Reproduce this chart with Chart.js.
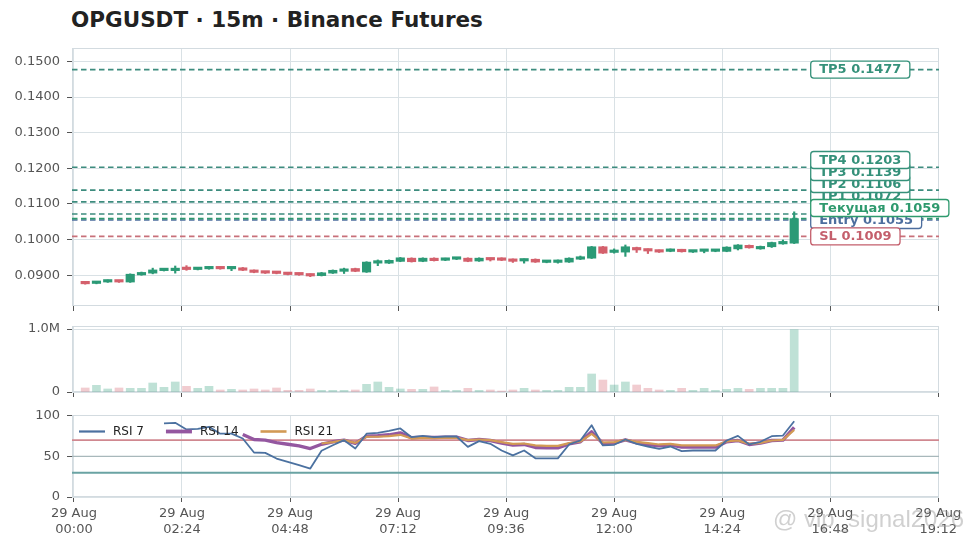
<!DOCTYPE html>
<html>
<head>
<meta charset="utf-8">
<script src="https://cdn.jsdelivr.net/npm/chart.js@4.4.1/dist/chart.umd.min.js"></script>
<style>
  html, body { margin: 0; padding: 0; background: #fff; }
  body { width: 973px; height: 548px; position: relative; overflow: hidden; font-family: 'DejaVu Sans', sans-serif; }
  #title { position: absolute; left: 71px; top: 9px; font-weight: bold; font-size: 21.5px; line-height: 21px; color: #222; white-space: nowrap; }
  .panel { position: absolute; left: 0; }
  #watermark { position: absolute; left: 773px; top: 505px; font-family: 'Liberation Sans', sans-serif; font-size: 24px; color: rgba(150,150,150,0.45); white-space: nowrap; }
</style>
</head>
<body>
<div id="title">OPGUSDT · 15m · Binance Futures</div>
<canvas class="panel" id="priceChart" width="973" height="274" style="top:40px"></canvas>
<canvas class="panel" id="volumeChart" width="973" height="82" style="top:318px"></canvas>
<canvas class="panel" id="rsiChart" width="973" height="143" style="top:405px"></canvas>
<div id="watermark">@ vip_signal2026</div>
<script>
// velas de 15 minutos (hora de apertura)
const times = ['00:15','00:30','00:45','01:00','01:15','01:30','01:45','02:00','02:15','02:30','02:45','03:00','03:15','03:30','03:45','04:00',
  '04:15','04:30','04:45','05:00','05:15','05:30','05:45','06:00','06:15','06:30','06:45','07:00','07:15','07:30','07:45','08:00',
  '08:15','08:30','08:45','09:00','09:15','09:30','09:45','10:00','10:15','10:30','10:45','11:00','11:15','11:30','11:45','12:00',
  '12:15','12:30','12:45','13:00','13:15','13:30','13:45','14:00','14:15','14:30','14:45','15:00','15:15','15:30','15:45','16:00'];

const opens = [0.0880,0.0877,0.0881,0.0885,0.0881,0.0901,0.0906,0.0913,0.0913,0.0922,0.0916,0.0918,0.0923,0.0918,0.0919,0.0914,
  0.0909,0.0908,0.0907,0.0905,0.0903,0.0899,0.0906,0.0911,0.0919,0.0909,0.0934,0.0934,0.0939,0.0948,0.0939,0.0948,
  0.0942,0.0945,0.0948,0.0940,0.0947,0.0948,0.0945,0.0940,0.0945,0.0936,0.0936,0.0937,0.0945,0.0948,0.0980,0.0964,
  0.0965,0.0978,0.0973,0.0970,0.0967,0.0972,0.0965,0.0967,0.0967,0.0967,0.0974,0.0984,0.0974,0.0980,0.0988,0.0990];
const highs = [0.0881,0.0883,0.0887,0.0886,0.0904,0.0909,0.0920,0.0919,0.0926,0.0927,0.0922,0.0924,0.0924,0.0920,0.0922,0.0915,
  0.0910,0.0909,0.0908,0.0906,0.0904,0.0908,0.0915,0.0920,0.0920,0.0938,0.0943,0.0943,0.0950,0.0949,0.0949,0.0949,
  0.0948,0.0948,0.0949,0.0949,0.0948,0.0949,0.0946,0.0946,0.0946,0.0940,0.0943,0.0949,0.0954,0.0981,0.0981,0.0974,
  0.0985,0.0979,0.0974,0.0971,0.0974,0.0973,0.0969,0.0970,0.0970,0.0980,0.0986,0.0985,0.0982,0.0993,0.0999,0.1078];
const lows = [0.0875,0.0876,0.0880,0.0880,0.0880,0.0900,0.0904,0.0912,0.0906,0.0914,0.0915,0.0917,0.0917,0.0913,0.0913,0.0907,
  0.0905,0.0904,0.0901,0.0900,0.0896,0.0898,0.0905,0.0905,0.0910,0.0908,0.0927,0.0933,0.0938,0.0937,0.0938,0.0940,
  0.0941,0.0944,0.0938,0.0939,0.0940,0.0941,0.0936,0.0934,0.0936,0.0935,0.0934,0.0936,0.0944,0.0947,0.0961,0.0962,
  0.0953,0.0964,0.0961,0.0964,0.0966,0.0965,0.0964,0.0963,0.0966,0.0966,0.0971,0.0976,0.0973,0.0978,0.0987,0.0989];
const closes = [0.0876,0.0881,0.0886,0.0881,0.0903,0.0908,0.0915,0.0918,0.0920,0.0916,0.0921,0.0923,0.0918,0.0920,0.0914,0.0908,
  0.0906,0.0905,0.0902,0.0901,0.0898,0.0907,0.0914,0.0917,0.0911,0.0937,0.0937,0.0942,0.0949,0.0938,0.0948,0.0941,
  0.0947,0.0947,0.0939,0.0948,0.0943,0.0942,0.0939,0.0945,0.0937,0.0939,0.0939,0.0948,0.0950,0.0980,0.0962,0.0965,
  0.0980,0.0971,0.0968,0.0965,0.0973,0.0966,0.0968,0.0969,0.0969,0.0979,0.0985,0.0977,0.0981,0.0992,0.0994,0.1059];

const volumes = [64000,106000,48000,64000,58000,58000,143000,74000,159000,90000,58000,90000,32000,42000,32000,48000,
  32000,64000,27000,27000,48000,27000,27000,27000,32000,122000,159000,74000,48000,42000,42000,80000,
  27000,27000,58000,27000,32000,16000,32000,58000,32000,27000,27000,74000,74000,286000,190000,111000,
  159000,111000,58000,32000,27000,58000,27000,58000,27000,42000,58000,42000,58000,58000,58000,990000];

const rsi7 = [null,null,null,null,null,null,null,90.6,91.4,83.2,84,86.5,78,78,72,54.8,
  54.4,47.4,43.3,39.2,35,56.9,63.8,70,59.7,78,79,81.5,84.4,73.7,75.3,73.7,
  74.5,74.5,61.8,68.8,65.5,57.3,51.2,57.3,47.6,47.6,47.6,64.7,69.6,88.4,63.5,64.3,
  70.8,65.5,62.2,59.4,62.2,56.5,57.3,57.3,57.3,69.6,75.3,64.7,68,74.9,75.7,93.3];
const rsi14 = [null,null,null,null,null,null,null,null,null,null,null,null,null,null,77,70.8,
  70,67,65,63,59.7,65,68,70,66,75,75.4,76.6,79,72.9,73.7,73.3,
  73.7,73.7,69.6,70.8,69.6,66.3,63.9,64.7,61,60.6,60.6,65.5,68,80.2,65.9,66.3,
  70.4,66.7,64.7,63,64.3,61.4,61.4,61.4,61.4,68,69.6,64.7,66.3,69.6,70,85.9];
const rsi21 = [null,null,null,null,null,null,null,null,null,null,null,null,null,null,null,null,
  null,null,null,null,null,65.9,67.5,70,66.7,74.2,74.2,75,76.6,72,72.9,72.4,
  72.9,72.9,70,70.8,70,67.6,65.5,65.9,63.5,63,63,66.3,68.4,77.8,67.1,67.6,
  70.4,68,66.3,64.7,65.5,63.5,63.5,63.5,63.5,68.4,69.6,65.5,66.7,69.6,70.4,82.7];
const rsiNames = ['RSI 7', 'RSI 14', 'RSI 21'];
const rsiGuides = [70, 50, 30];

// niveles de la señal
const levelNames = ['TP5', 'TP4', 'TP3', 'TP2', 'TP1', 'Текущая', 'Entry', 'SL'];
const levelValues = [0.1477, 0.1203, 0.1139, 0.1106, 0.1072, 0.1059, 0.1055, 0.1009];

// ejes
const xTickMinutes = [0, 144, 288, 432, 576, 720, 864, 1008, 1152];
const xTickLabels = [['29 Aug','00:00'],['29 Aug','02:24'],['29 Aug','04:48'],['29 Aug','07:12'],['29 Aug','09:36'],
  ['29 Aug','12:00'],['29 Aug','14:24'],['29 Aug','16:48'],['29 Aug','19:12']];
const priceTicks = [0.09, 0.10, 0.11, 0.12, 0.13, 0.14, 0.15];
const volumeTicks = [0, 1000000];
const volumeTickLabels = ['0', '1.0M'];
const rsiTicks = [0, 50, 100];

// estilos
const xMin = -2.6, xMax = 1153;
const green = '#2b9a76', red = '#d4606c';
const greenVol = 'rgba(43,154,118,0.3)', redVol = 'rgba(212,96,108,0.32)';
const levelColors = ['#3d8c7e', '#3d8c7e', '#3d8c7e', '#3d8c7e', '#3d8c7e', '#2e9a6e', '#4d6e9e', '#c8707a'];
const labelColors = ['#35917a', '#35917a', '#35917a', '#35917a', '#35917a', '#2e9a6e', '#4d6e9e', '#c45f6c'];
const labelDrawOrder = ['Entry', 'SL', 'TP1', 'TP2', 'TP3', 'TP4', 'TP5', 'Текущая'];
const labelMinute = 982;
const rsiColors = ['#4b71a0', '#9457a0', '#d29a55'];
const rsiWidths = [1.8, 3.4, 2.2];
const guideColors = ['#d08890', '#a8b8bb', '#6aa3a3'];
const guideWidths = [1.6, 1.3, 2];
const gridColor = '#d9e1e5', frameColor = '#d3dbe0', tickColor = '#555';

Chart.defaults.font.family = "'DejaVu Sans', sans-serif";
Chart.defaults.color = '#555';

const toMinutes = t => parseInt(t.slice(0, 2)) * 60 + parseInt(t.slice(3));
const candleColors = opens.map((o, i) => closes[i] >= o ? green : red);
const volumeColors = opens.map((o, i) => closes[i] >= o ? greenVol : redVol);

// marco claro alrededor del área del gráfico
const framePlugin = {
  id: 'frame',
  beforeDatasetsDraw(chart) {
    const { ctx, chartArea: a } = chart;
    ctx.save();
    ctx.strokeStyle = frameColor;
    ctx.lineWidth = 1;
    ctx.strokeRect(a.left + 0.5, a.top + 0.5, a.right - a.left - 1, a.bottom - a.top - 1);
    ctx.restore();
  }
};

// etiquetas de los niveles (se empujan hacia arriba si se superponen)
const levelLabels = {
  id: 'levelLabels',
  afterDatasetsDraw(chart) {
    const { ctx } = chart;
    const yScale = chart.scales.y;
    const x = chart.scales.x.getPixelForValue(labelMinute);
    const boxes = levelNames.map((name, i) => ({
      name, value: levelValues[i], color: labelColors[i], y: yScale.getPixelForValue(levelValues[i])
    }));
    const byValue = boxes.slice().sort((a, b) => a.value - b.value);
    for (let i = 1; i < byValue.length; i++) {
      byValue[i].y = Math.min(byValue[i].y, byValue[i - 1].y - 12);
    }
    ctx.save();
    ctx.font = "bold 13px 'DejaVu Sans'";
    ctx.textBaseline = 'middle';
    labelDrawOrder.forEach(name => {
      const b = boxes.find(item => item.name === name);
      const text = b.name + ' ' + b.value.toFixed(4);
      const w = ctx.measureText(text).width + 17;
      const h = 17;
      ctx.beginPath();
      ctx.roundRect(x, b.y - h / 2, w, h, 3);
      ctx.fillStyle = '#fff';
      ctx.fill();
      ctx.strokeStyle = b.color;
      ctx.lineWidth = 1.3;
      ctx.stroke();
      ctx.fillStyle = b.color;
      ctx.fillText(text, x + 8.5, b.y + 0.5);
    });
    ctx.restore();
  }
};

// leyenda dentro del panel RSI
const rsiLegend = {
  id: 'rsiLegend',
  afterDatasetsDraw(chart) {
    const { ctx, chartArea: a } = chart;
    const y = a.top + 16.5;
    let x = a.left + 7;
    ctx.save();
    ctx.font = "12px 'DejaVu Sans'";
    ctx.textBaseline = 'middle';
    rsiNames.forEach((name, i) => {
      ctx.beginPath();
      ctx.moveTo(x, y);
      ctx.lineTo(x + 26, y);
      ctx.strokeStyle = rsiColors[i];
      ctx.lineWidth = rsiWidths[i] + 0.4;
      ctx.stroke();
      ctx.fillStyle = '#222';
      ctx.fillText(name, x + 34, y + 0.5);
      x += 34 + ctx.measureText(name).width + 22;
    });
    ctx.restore();
  }
};

const xAxis = (showLabels, height) => ({
  type: 'linear', min: xMin, max: xMax, offset: false,
  afterBuildTicks: s => { s.ticks = xTickMinutes.map(v => ({ value: v })); },
  afterFit: s => { s.height = height; s.paddingLeft = 0; s.paddingRight = 0; },
  ticks: {
    display: showLabels, color: '#555', font: { size: 13, lineHeight: 1.22 }, padding: 4, maxRotation: 0,
    callback: (v, i) => xTickLabels[i]
  },
  grid: { offset: false, color: gridColor, tickColor: tickColor, tickLength: 5, tickWidth: 1 },
  border: { display: false }
});

const yAxis = (min, max, ticks, label) => ({
  min, max,
  afterBuildTicks: s => { s.ticks = ticks.map(v => ({ value: v })); },
  afterFit: s => { s.width = 72; s.paddingTop = 0; s.paddingBottom = 0; },
  ticks: { color: '#555', font: { size: 13 }, padding: 7, callback: label },
  grid: { color: gridColor, tickColor: tickColor, tickLength: 5, tickWidth: 1 },
  border: { display: false }
});

const baseOptions = {
  responsive: false, animation: false, events: [],
  plugins: { legend: { display: false }, tooltip: { enabled: false } }
};

// precio: mechas y cuerpos como barras flotantes, niveles como líneas punteadas
const levelDatasets = levelValues.map((v, i) => ({
  type: 'line', label: levelNames[i],
  data: [{ x: xMin, y: v }, { x: xMax, y: v }],
  borderColor: levelColors[i], borderWidth: 1.6, borderDash: [5.5, 3.5],
  pointRadius: 0, order: 2
}));

new Chart(document.getElementById('priceChart'), {
  type: 'bar',
  data: {
    datasets: [
      {
        label: 'body', grouped: false, order: 0,
        data: times.map((t, i) => ({ x: toMinutes(t), y: [opens[i], closes[i]] })),
        backgroundColor: candleColors, barThickness: 8.5, minBarLength: 2.5
      },
      {
        label: 'wick', grouped: false, order: 1,
        data: times.map((t, i) => ({ x: toMinutes(t), y: [lows[i], highs[i]] })),
        backgroundColor: candleColors, barThickness: 1.5
      },
      ...levelDatasets
    ]
  },
  options: {
    ...baseOptions,
    layout: { padding: { top: 8, right: 34, left: 0, bottom: 0 } },
    scales: {
      x: xAxis(false, 8),
      y: yAxis(0.08138, 0.15376, priceTicks, v => v.toFixed(4))
    }
  },
  plugins: [framePlugin, levelLabels]
});

// volumen
new Chart(document.getElementById('volumeChart'), {
  type: 'bar',
  data: {
    datasets: [{
      label: 'Volume', grouped: false,
      data: times.map((t, i) => ({ x: toMinutes(t), y: volumes[i] })),
      backgroundColor: volumeColors, barThickness: 8
    }]
  },
  options: {
    ...baseOptions,
    layout: { padding: { top: 8, right: 34, left: 0, bottom: 0 } },
    scales: {
      x: xAxis(false, 8),
      y: yAxis(0, 1048000, volumeTicks, (v, i) => volumeTickLabels[i])
    }
  },
  plugins: [framePlugin]
});

// RSI
const rsiSeries = [rsi7, rsi14, rsi21];
const rsiOrder = [0, 2, 1];
new Chart(document.getElementById('rsiChart'), {
  type: 'line',
  data: {
    datasets: [
      ...rsiSeries.map((s, k) => ({
        label: rsiNames[k],
        data: times.map((t, i) => ({ x: toMinutes(t), y: s[i] })),
        borderColor: rsiColors[k], borderWidth: rsiWidths[k], pointRadius: 0,
        order: rsiOrder[k], borderJoinStyle: 'round'
      })),
      ...rsiGuides.map((g, k) => ({
        label: 'guide ' + g,
        data: [{ x: xMin, y: g }, { x: xMax, y: g }],
        borderColor: guideColors[k], borderWidth: guideWidths[k], pointRadius: 0, order: 5
      }))
    ]
  },
  options: {
    ...baseOptions,
    layout: { padding: { top: 10, right: 34, left: 0, bottom: 0 } },
    scales: {
      x: xAxis(true, 51),
      y: yAxis(0, 101, rsiTicks, v => String(v))
    }
  },
  plugins: [framePlugin, rsiLegend]
});
</script>
</body>
</html>
